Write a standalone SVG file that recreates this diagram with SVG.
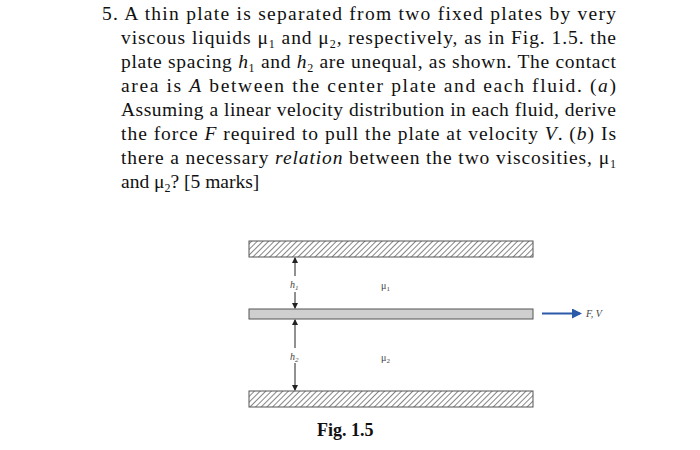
<svg xmlns="http://www.w3.org/2000/svg" width="700" height="450" viewBox="0 0 700 450">
<style>
.t{font-family:"Liberation Serif",serif;font-size:19.5px;fill:#111}
.s{font-family:"Liberation Serif",serif;font-size:10px;fill:#444}
.plate{fill:url(#hatch);stroke:#555;stroke-width:1}
.dim{stroke:#222;stroke-width:1;fill:none}
</style>
<defs>
<pattern id="hatch" width="4" height="4" patternUnits="userSpaceOnUse" patternTransform="rotate(45)">
<rect width="4" height="4" fill="#fff"/><line x1="0" y1="0" x2="0" y2="4" stroke="#666" stroke-width="1.6"/>
</pattern>
<marker id="a" markerWidth="6" markerHeight="6" refX="5" refY="3" orient="auto"><path d="M0,0L6,3L0,6z" fill="#222"/></marker>
<marker id="b" markerWidth="5" markerHeight="5" refX="4" refY="2.5" orient="auto"><path d="M0,0L5,2.5L0,5z" fill="#2a5aa8"/></marker>
</defs>
<g id="text">
<text class="t" x="102" y="20" textLength="514" lengthAdjust="spacing">5. A thin plate is separated from two fixed plates by very</text>
<text class="t" x="121" y="44" textLength="495" lengthAdjust="spacing">viscous liquids μ<tspan font-size="12" dy="4">1</tspan><tspan dy="-4"> and μ</tspan><tspan font-size="12" dy="4">2</tspan><tspan dy="-4">, respectively, as in Fig. 1.5. the</tspan></text>
<text class="t" x="121" y="68" textLength="495" lengthAdjust="spacing">plate spacing <tspan font-style="italic">h</tspan><tspan font-size="12" dy="4">1</tspan><tspan dy="-4"> and </tspan><tspan font-style="italic">h</tspan><tspan font-size="12" dy="4">2</tspan><tspan dy="-4"> are unequal, as shown. The contact</tspan></text>
<text class="t" x="121" y="92" textLength="495" lengthAdjust="spacing">area is <tspan font-style="italic">A</tspan> between the center plate and each fluid. (<tspan font-style="italic">a</tspan>)</text>
<text class="t" x="121" y="116" textLength="495" lengthAdjust="spacing">Assuming a linear velocity distribution in each fluid, derive</text>
<text class="t" x="121" y="140" textLength="495" lengthAdjust="spacing">the force <tspan font-style="italic">F</tspan> required to pull the plate at velocity <tspan font-style="italic">V</tspan>. (<tspan font-style="italic">b</tspan>) Is</text>
<text class="t" x="121" y="164" textLength="495" lengthAdjust="spacing">there a necessary <tspan font-style="italic">relation</tspan> between the two viscosities, μ<tspan font-size="12" dy="4">1</tspan></text>
<text class="t" x="121" y="188">and μ<tspan font-size="12" dy="4">2</tspan><tspan dy="-4">? [5 marks]</tspan></text>
</g>
<g id="top-plate"><rect class="plate" x="249" y="241" width="284" height="16"/></g>
<g id="center-plate"><rect x="249" y="309" width="284" height="10" fill="#cfcfcf" stroke="#555"/></g>
<g id="bottom-plate"><rect class="plate" x="249" y="391" width="284" height="16"/></g>
<g id="connectors">
<line class="dim" x1="295" y1="276" x2="295" y2="258" marker-end="url(#a)"/>
<line class="dim" x1="295" y1="292" x2="295" y2="308" marker-end="url(#a)"/>
<line class="dim" x1="295" y1="348" x2="295" y2="320" marker-end="url(#a)"/>
<line class="dim" x1="295" y1="363" x2="295" y2="390" marker-end="url(#a)"/>
<line x1="542" y1="313.5" x2="580" y2="313.5" stroke="#2a5aa8" stroke-width="2" marker-end="url(#b)"/>
</g>
<g id="labels">
<text class="s" x="290" y="288" font-style="italic">h<tspan font-size="7" dy="2">1</tspan></text>
<text class="s" x="290" y="360" font-style="italic">h<tspan font-size="7" dy="2">2</tspan></text>
<text class="s" x="381" y="289">μ<tspan font-size="7" dy="2">1</tspan></text>
<text class="s" x="381" y="361">μ<tspan font-size="7" dy="2">2</tspan></text>
<text class="s" x="586" y="317" font-style="italic">F, V</text>
<text x="317" y="436" style="font-family:'Liberation Serif',serif;font-size:18px;font-weight:bold;fill:#111">Fig. 1.5</text>
</g>
</svg>
